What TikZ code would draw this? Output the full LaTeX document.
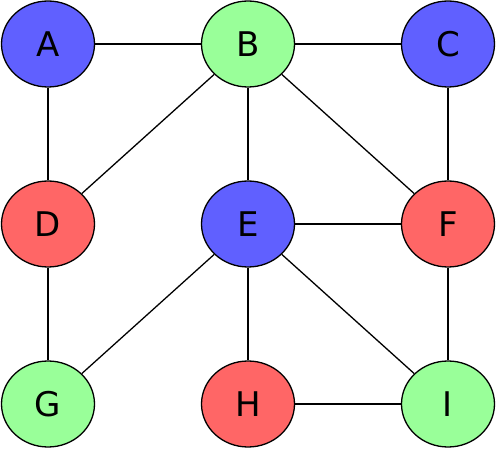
\documentclass[tikz,border=0pt]{standalone}
\usepackage{fontspec}
\setmainfont{DejaVu Sans}
\usetikzlibrary{shapes.geometric}
\definecolor{blueNode}{HTML}{6060FF}
\definecolor{greenNode}{HTML}{99FF99}
\definecolor{redNode}{HTML}{FF6666}
\tikzset{
	vertex/.style = {ellipse, draw = black, line width = 1.3pt, inner sep = 0pt,
		minimum width = 93pt, minimum height = 86pt, font = \fontsize{34}{36}\selectfont},
	edge/.style = {line width = 1.3pt}
}
\newcommand{\vertexNode}[4]{
	\node[vertex, fill = #2] (#1) at (#3, #4) {#1};
}
\begin{document}
\begin{tikzpicture}[x = 1pt, y = -1pt]%
		\useasboundingbox (0, 0) rectangle (496, 449);

		% top row
		\vertexNode{A}{blueNode}{48}{44}
		\vertexNode{B}{greenNode}{248}{44}
		\vertexNode{C}{blueNode}{448}{44}

		% middle row
		\vertexNode{D}{redNode}{48}{224}
		\vertexNode{E}{blueNode}{248}{224}
		\vertexNode{F}{redNode}{448}{224}

		% bottom row
		\vertexNode{G}{greenNode}{48}{404}
		\vertexNode{H}{redNode}{248}{404}
		\vertexNode{I}{greenNode}{448}{404}

		% edges
		\foreach \from/\to in {A/B, B/C, A/D, B/D, B/E, B/F, C/F, D/G, E/F, E/G, E/H, E/I, F/I, H/I}
			\draw[edge] (\from) -- (\to);
	\end{tikzpicture}
\end{document}
